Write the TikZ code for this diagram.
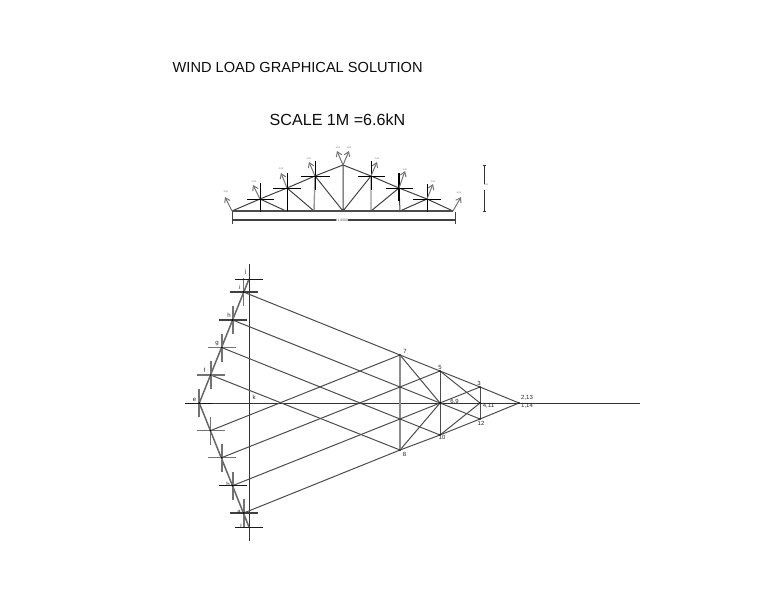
\documentclass[tikz,border=0pt]{standalone}
\usepackage{fontspec}
\setmainfont{Liberation Sans}
\usetikzlibrary{arrows.meta}
\tikzset{
 lbl/.style={inner sep=0pt,font=\fontsize{6}{7}\selectfont,text=black!85},
 tinyl/.style={inner sep=0pt,font=\fontsize{2.2}{2.6}\selectfont,text=black!65},
 titlea/.style={inner sep=0pt,anchor=west,font=\fontsize{14.6}{18}\selectfont,text=black!95},
 titleb/.style={inner sep=0pt,anchor=west,font=\fontsize{16.1}{18}\selectfont,text=black!95},
 member/.style={draw=black!75,line width=1pt},
 chord/.style={draw=black!70,line width=1.9pt},
 thinl/.style={draw=black!80,line width=.8pt},
 ray/.style={draw=black!70,line width=1pt},
 crossline/.style={draw=black!90,line width=1pt},
 crossgrey/.style={draw=black!55,line width=1.9pt},
 crossmid/.style={draw=black!75,line width=1.2pt},
 load/.style={draw=black!55,line width=1pt,-{Straight Barb[length=4.5pt,width=6pt]}},
 pt/.style={circle,fill=black,inner sep=0pt,minimum size=2pt},
}
\begin{document}
\begin{tikzpicture}[x=1pt,y=-1pt]
\useasboundingbox (0,0) rectangle (768,594);
\node[titlea] (t1) at (172.5,67) {WIND LOAD GRAPHICAL SOLUTION};
\node[titleb] (t2) at (269.5,120) {SCALE 1M =6.6kN};
% truss
\foreach \n/\x/\y in {b0/232/211,b1/286/211,b2/314/211,b3/343/211,b4/371/211,b5/400/211,b6/453/211,
 u1/260/199,u2/287/188,u3/315/176,ap/343/165,u4/371/176,u5/399/188,u6/427/199}
 \coordinate (\n) at (\x,\y);
\draw[member] (b0) -- (u1) -- (u2) -- (u3) -- (ap) -- (u4) -- (u5) -- (u6) -- (b6);
\draw[member] (u1) -- (b1) (u2) -- (b2) (u3) -- (b3) (ap) -- (b3)
 (u4) -- (b3) (u5) -- (b4) (u6) -- (b5) (u5) -- (b5);
\draw[member,draw=black!40,line width=1.4pt] (u3) -- (b2) (u4) -- (b4);
\draw[chord] (b0) -- (b6);
\foreach \c/\h in {u1/13.5,u2/14,u3/14.5,u4/13.5,u5/13.5,u6/14}
 \draw[crossline,draw=black] ([xshift=-\h pt]\c) -- ([xshift=\h pt]\c);
\draw[crossline,draw=black] (260,183) -- (260,212);
\draw[crossline,draw=black] (287,173) -- (287,211);
\draw[crossline,draw=black] (315,161) -- (315,190);
\draw[crossline,draw=black] (371,161) -- (371,190);
\draw[draw=black,line width=2.8pt] (399,173) -- (399,201);
\draw[crossline,draw=black] (427,184) -- (427,212);
% loads
\coordinate (L0) at (225,197);
\coordinate (L1) at (253,185);
\coordinate (L2) at (281,173);
\coordinate (L3) at (309,162);
\coordinate (L4a) at (337,151);
\coordinate (L4b) at (349,151);
\coordinate (L5) at (377,162);
\coordinate (L6) at (405,171);
\coordinate (L7) at (433,184);
\coordinate (L8) at (461,197);
\draw[load] (b0) -- (L0);
\draw[load] (u1) -- (L1);
\draw[load] (u2) -- (L2);
\draw[load] (u3) -- (L3);
\draw[load] (ap) -- (L4a);
\draw[load] (ap) -- (L4b);
\draw[load] (u4) -- (L5);
\draw[load] (u5) -- (L6);
\draw[load] (u6) -- (L7);
\draw[load] (b6) -- (L8);
\foreach \x/\y in {226/192,254/182,281/169,309/159,338/148,349/148,377/159,405/170,433/182,459/193}
 \node[tinyl] at (\x,\y) {0.00};
% dimension
\coordinate (d1) at (232.5,220);
\coordinate (d2) at (455,220);
\node[tinyl,font=\fontsize{3.4}{4}\selectfont] (dt) at (342,220) {11.0000};
\draw[member,line width=1.3pt] (d1) -- (dt.west) (dt.east) -- (d2);
\draw[member] (232.5,212) -- (232.5,223.5) (455,212) -- (455,223.5);
% side dimension
\coordinate (s1) at (484.5,165);
\coordinate (s2) at (484.5,212);
\node[tinyl] (st) at (486,185) {1.00};
\draw[thinl,line width=1.1pt] (s1) -- (484.5,184) (484.5,190) -- (s2);
\draw[thinl] (482.5,165) -- (486,165) (482.5,211.5) -- (486,211.5);
% force diagram
\foreach \n/\x/\y in {j/249/279,i/243.5/292,h/232.6/320,g/221.8/347.6,f/210.7/375,e/199.3/403,
 d/210.5/430.6,c/221.8/457.6,bb/232.7/485.6,a/243.7/513,l/249/527,
 p213/519/403,p7/400/355,p5/440/371,p3/480/387,p411/480/403,p69/440/403,p12/480/419,p10/440/435,p8/400/450,
 m1/400/387,m2/400/419}
 \coordinate (\n) at (\x,\y);
\draw[thinl] (249,264) -- (249,541);
\draw[thinl] (185,403) -- (640,403);
\draw[ray,draw=black!60,line width=1.5pt] (j) -- (e) -- (l);
% rays
\draw[ray] (i) -- (p7) -- (p5) -- (p3) -- (p213);
\draw[ray] (a) -- (p8) -- (p10) -- (p12) -- (p213);
\draw[ray] (h) -- (m1) -- (p69) -- (p12);
\draw[ray] (bb) -- (m2) -- (p69) -- (p3);
\draw[ray] (g) -- (m2) -- (p10);
\draw[ray] (c) -- (m1) -- (p5);
\draw[ray] (f) -- (p8);
\draw[ray] (d) -- (p7);
\draw[ray] (p7) -- (p69) -- (p8);
\draw[ray] (p5) -- (p411) -- (p10);
\draw[ray,draw=black!45,line width=1.6pt] (p7) -- (p8);
\draw[ray] (p5) -- (p10);
\draw[ray] (p3) -- (p12);
% crosses
\foreach \c in {i,h,g,f,e,d,c,bb,a}
 \draw[crossgrey] ([yshift=-14pt]\c) -- ([yshift=14pt]\c);
\foreach \c in {j,e,bb,l}
 \draw[crossline] ([xshift=-14pt]\c) -- ([xshift=14pt]\c);
\foreach \c in {i,h,a}
 \draw[crossmid] ([xshift=-14pt]\c) -- ([xshift=14pt]\c);
\foreach \c in {g,f,d,c}
 \draw[crossgrey,line width=1.4pt] ([xshift=-14pt]\c) -- ([xshift=14pt]\c);
\node[pt] (n69) at (p69) {};
\foreach \c in {p7,p5,p3,p411,p12,p10,p8,m1,m2,p213,i,h,g,f,e,d,c,bb,a}
 \node[pt,minimum size=1.8pt] at (\c) {};
% labels
\node[lbl] at (245.5,272) {j};
\node[lbl] at (239.5,287) {i};
\node[lbl] at (229,315) {h};
\node[lbl] at (217,344) {g};
\node[lbl] at (204.5,370) {f};
\node[lbl] at (194.5,399.5) {e};
\node[lbl] at (254,397) {k};
\node[lbl] at (228,484) {b};
\node[lbl] at (239,511.5) {a};
\node[lbl] at (241,526) {l};
\node[lbl] at (405,351) {7};
\node[lbl] at (440,367) {5};
\node[lbl] at (479,383) {3};
\node[lbl] at (454.5,401.5) {6,9};
\node[lbl] at (488.5,406) {4,11};
\node[lbl] at (481,423) {12};
\node[lbl] at (442,437.5) {10};
\node[lbl] at (404.5,454) {8};
\node[lbl] at (527,397.5) {2,13};
\node[lbl] at (527,406) {1,14};
\end{tikzpicture}
\end{document}
